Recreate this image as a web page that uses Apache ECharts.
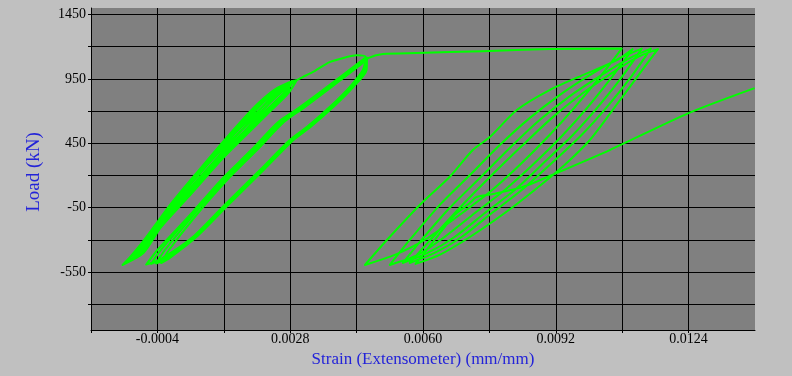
<!DOCTYPE html>
<html><head><meta charset="utf-8">
<script src="https://cdn.jsdelivr.net/npm/echarts@6/dist/echarts.min.js"></script>
<style>html,body{margin:0;padding:0;background:#c0c0c0}#c{width:792px;height:376px}</style>
</head><body><div id="c"></div><script>
// Tick / label values
const xTicks = [-0.0020, -0.0004, 0.0012, 0.0028, 0.0044, 0.0060, 0.0076, 0.0092, 0.0108, 0.0124];
const xLabels = [-0.0004, 0.0028, 0.0060, 0.0092, 0.0124];
const yTicks = [-800, -550, -300, -50, 200, 450, 700, 950, 1200, 1450];
const yLabels = [-550, -50, 450, 950, 1450];

// [strain (mm/mm), load (kN)], in test order
const elasticCycles = [
 [0.00000, 0], [0.00062, 242], [0.00117, 451], [0.00166, 630], [0.00207, 770], [0.00248, 878], [0.00284, 932],
 [0.00272, 839], [0.00231, 707], [0.00175, 529], [0.00110, 320], [0.00031, 33], [-0.00036, -210], [-0.00077, -405], [-0.00121, -490],
 [-0.00072, -317], [0.00003, -6], [0.00070, 242], [0.00126, 451], [0.00176, 630], [0.00216, 770], [0.00257, 878], [0.00290, 935],
 [0.00264, 839], [0.00222, 707], [0.00165, 529], [0.00100, 320], [0.00022, 33], [-0.00044, -215], [-0.00085, -415], [-0.00122, -492],
 [-0.00075, -317], [-0.00003, -6], [0.00062, 242], [0.00117, 451], [0.00166, 630], [0.00207, 770], [0.00248, 878], [0.00286, 930],
 [0.00256, 839], [0.00213, 707], [0.00156, 529], [0.00091, 320], [0.00014, 33], [-0.00050, -222], [-0.00092, -425], [-0.00124, -495],
 [-0.00071, -317], [0.00009, -6], [0.00078, 242], [0.00135, 451], [0.00185, 630], [0.00224, 770], [0.00264, 878], [0.00293, 938],
 [0.00250, 839], [0.00205, 707], [0.00148, 529], [0.00084, 320], [0.00008, 33], [-0.00054, -225], [-0.00096, -430], [-0.00123, -493],
 [-0.00069, -317], [0.00013, -6], [0.00084, 242], [0.00143, 451], [0.00194, 630], [0.00233, 770], [0.00270, 878], [0.00295, 935],
 [0.00276, 839], [0.00235, 707], [0.00179, 529], [0.00114, 320], [0.00035, 33], [-0.00032, -205], [-0.00073, -400], [-0.00120, -488],
 [-0.00074, -317], [0.00000, -6], [0.00066, 242], [0.00121, 451], [0.00171, 630], [0.00212, 770], [0.00252, 878], [0.00288, 934],
 [0.00268, 839], [0.00227, 707], [0.00170, 529], [0.00105, 320], [0.00026, 33], [-0.00040, -212], [-0.00081, -410], [-0.00121, -490],
 [-0.00076, -317], [-0.00004, -6], [0.00060, 242], [0.00115, 451], [0.00164, 630], [0.00206, 770], [0.00248, 878], [0.00296, 940]
];
const transitionArc = [
 [0.00310, 964], [0.00334, 1002], [0.00375, 1080], [0.00416, 1119], [0.00440, 1134], [0.00462, 1120]
];
const intermediateCycles = [
 [0.00455, 1018], [0.00423, 886], [0.00375, 731], [0.00320, 576], [0.00279, 475], [0.00207, 242], [0.00117, -45], [0.00045, -278], [-0.00030, -445], [-0.00067, -492],
 [-0.00040, -379], [0.00034, -123], [0.00113, 164], [0.00186, 397], [0.00251, 614], [0.00300, 723], [0.00349, 839], [0.00397, 956], [0.00438, 1057], [0.00460, 1111],
 [0.00458, 1018], [0.00426, 886], [0.00378, 731], [0.00323, 576], [0.00282, 475], [0.00210, 242], [0.00120, -45], [0.00048, -278], [-0.00024, -440], [-0.00055, -487],
 [-0.00032, -379], [0.00038, -123], [0.00117, 164], [0.00190, 397], [0.00255, 614], [0.00303, 723], [0.00351, 839], [0.00399, 956], [0.00440, 1057], [0.00463, 1114],
 [0.00461, 1018], [0.00429, 886], [0.00381, 731], [0.00326, 576], [0.00285, 475], [0.00213, 242], [0.00123, -45], [0.00051, -278], [-0.00017, -440], [-0.00043, -484],
 [-0.00022, -379], [0.00043, -123], [0.00122, 164], [0.00194, 397], [0.00259, 614], [0.00306, 723], [0.00354, 839], [0.00402, 956], [0.00443, 1057], [0.00465, 1114],
 [0.00464, 1018], [0.00432, 886], [0.00384, 731], [0.00329, 576], [0.00288, 475], [0.00216, 242], [0.00126, -45], [0.00054, -278], [-0.00010, -440], [-0.00031, -480],
 [-0.00012, -379], [0.00050, -123], [0.00128, 164], [0.00200, 397], [0.00265, 614], [0.00312, 723], [0.00360, 839], [0.00408, 956], [0.00449, 1057], [0.00468, 1111]
];
const yieldPlateau = [
 [0.00503, 1142], [0.00585, 1150], [0.00744, 1165], [0.00905, 1181], [0.01079, 1185]
];
const largeCycles = [
 [0.01026, 964], [0.00966, 731], [0.00905, 514], [0.00833, 281], [0.00761, 71], [0.00688, -107], [0.00604, -301], [0.00532, -417], [0.00460, -495],
 [0.00513, -301], [0.00597, -14], [0.00664, 188], [0.00720, 397], [0.00761, 498], [0.00826, 708], [0.00905, 863], [0.00985, 979], [0.01067, 1095], [0.01105, 1181],
 [0.01055, 964], [0.00997, 731], [0.00937, 514], [0.00869, 296], [0.00797, 87], [0.00725, -92], [0.00652, -278], [0.00587, -417], [0.00520, -495],
 [0.00568, -301], [0.00640, -30], [0.00713, 203], [0.00785, 436], [0.00857, 645], [0.00929, 824], [0.01002, 979], [0.01074, 1111], [0.01127, 1185],
 [0.01079, 964], [0.01021, 731], [0.00961, 514], [0.00893, 304], [0.00821, 87], [0.00749, -92], [0.00676, -278], [0.00611, -402], [0.00551, -480],
 [0.00592, -317], [0.00664, -53], [0.00737, 180], [0.00809, 413], [0.00881, 630], [0.00954, 816], [0.01026, 971], [0.01098, 1111], [0.01149, 1185],
 [0.01101, 964], [0.01043, 731], [0.00982, 514], [0.00913, 304], [0.00838, 87], [0.00766, -92], [0.00693, -278], [0.00628, -402], [0.00568, -480],
 [0.00611, -324], [0.00688, -53], [0.00766, 203], [0.00838, 428], [0.00910, 645], [0.00982, 832], [0.01055, 995], [0.01117, 1119], [0.01166, 1181],
 [0.01105, 917], [0.01057, 708], [0.01002, 475], [0.00941, 281], [0.00869, 87], [0.00797, -92], [0.00713, -278], [0.00640, -417], [0.00582, -487]
];
const finalBranch = [
 [0.00628, -301], [0.00676, -107], [0.00713, -14], [0.00729, 33], [0.00768, 56], [0.00840, 110], [0.00922, 219], [0.01050, 397], [0.01240, 684], [0.01399, 878]
];

const curve = [].concat(elasticCycles, transitionArc, intermediateCycles, yieldPlateau, largeCycles, finalBranch);

const font = 'Liberation Serif';
const chart = echarts.init(document.getElementById('c'), null, {renderer: 'canvas'});
chart.setOption({
  backgroundColor: '#c0c0c0',
  animation: false,
  grid: {left: 91, right: 37, top: 8, bottom: 46, show: true, backgroundColor: '#808080', borderWidth: 0, containLabel: false},
  xAxis: {
    type: 'value', min: -0.002, max: 0.014,
    name: 'Strain (Extensometer) (mm/mm)', nameLocation: 'middle', nameGap: 21,
    nameTextStyle: {color: '#2323d8', fontFamily: font, fontSize: 17},
    axisLine: {show: true, onZero: false, lineStyle: {color: '#000', width: 1}},
    axisTick: {show: true, length: 3, customValues: xTicks, lineStyle: {color: '#000'}},
    axisLabel: {customValues: xLabels, formatter: v => v.toFixed(4), color: '#000', fontFamily: font, fontSize: 14, margin: 2},
    splitLine: {show: true, lineStyle: {color: '#000', width: 1}}
  },
  yAxis: {
    type: 'value', min: -1000, max: 1500,
    name: 'Load (kN)', nameLocation: 'middle', nameGap: 47,
    nameTextStyle: {color: '#2323d8', fontFamily: font, fontSize: 19, padding: [0, 6, 0, 0]},
    axisLine: {show: true, onZero: false, lineStyle: {color: '#000', width: 1}},
    axisTick: {show: true, length: 3, customValues: yTicks, lineStyle: {color: '#000'}},
    axisLabel: {customValues: yLabels, formatter: v => String(v), color: '#000', fontFamily: font, fontSize: 14, margin: 5},
    splitLine: {show: true, lineStyle: {color: '#000', width: 1}}
  },
  series: [{
    type: 'line', data: curve, showSymbol: false, symbol: 'none', clip: true, silent: true, smooth: 0.25,
    lineStyle: {color: '#00ff00', width: 2, join: 'round'}
  }]
});
</script></body></html>
